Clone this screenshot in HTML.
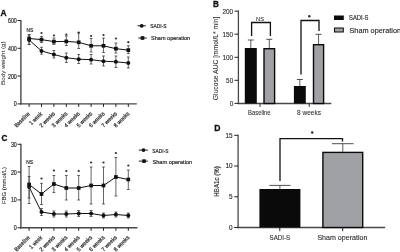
<!DOCTYPE html>
<html><head><meta charset="utf-8"><style>
html,body{margin:0;padding:0;background:#fff;width:400px;height:252px;overflow:hidden}
svg{display:block;will-change:transform}
text{font-family:"Liberation Sans", sans-serif}
</style></head><body>
<svg width="400" height="252" viewBox="0 0 400 252">
<rect width="400" height="252" fill="#fff"/>
<text x="0.4" y="15.9" font-size="8.4" text-anchor="start" font-weight="bold" fill="#111" stroke="#111" stroke-width="0.3">A</text>
<line x1="20.9" y1="19.9" x2="20.9" y2="104.60000000000001" stroke="#484848" stroke-width="1.4"/>
<line x1="20.2" y1="103.9" x2="136.8" y2="103.9" stroke="#484848" stroke-width="1.4"/>
<line x1="17.6" y1="20.5" x2="20.9" y2="20.5" stroke="#222" stroke-width="1.0"/>
<text x="16.8" y="22.9" font-size="6.6" text-anchor="end" font-weight="normal" fill="#2a2a2a" stroke="#2a2a2a" stroke-width="0.2" textLength="8.85" lengthAdjust="spacingAndGlyphs">600</text>
<line x1="17.6" y1="48.3" x2="20.9" y2="48.3" stroke="#222" stroke-width="1.0"/>
<text x="16.8" y="50.699999999999996" font-size="6.6" text-anchor="end" font-weight="normal" fill="#2a2a2a" stroke="#2a2a2a" stroke-width="0.2" textLength="8.85" lengthAdjust="spacingAndGlyphs">400</text>
<line x1="17.6" y1="76.1" x2="20.9" y2="76.1" stroke="#222" stroke-width="1.0"/>
<text x="16.8" y="78.5" font-size="6.6" text-anchor="end" font-weight="normal" fill="#2a2a2a" stroke="#2a2a2a" stroke-width="0.2" textLength="8.85" lengthAdjust="spacingAndGlyphs">200</text>
<line x1="17.6" y1="103.9" x2="20.9" y2="103.9" stroke="#222" stroke-width="1.0"/>
<text x="16.8" y="106.30000000000001" font-size="6.6" text-anchor="end" font-weight="normal" fill="#2a2a2a" stroke="#2a2a2a" stroke-width="0.2" textLength="2.95" lengthAdjust="spacingAndGlyphs">0</text>
<line x1="29.1" y1="103.9" x2="29.1" y2="106.9" stroke="#222" stroke-width="1.0"/>
<text transform="translate(30.3,114.2) rotate(-45)" font-size="5.8" text-anchor="end" font-weight="normal" fill="#2a2a2a" stroke="#2a2a2a" stroke-width="0.22" textLength="19.2" lengthAdjust="spacingAndGlyphs">Baseline</text>
<line x1="41.5" y1="103.9" x2="41.5" y2="106.9" stroke="#222" stroke-width="1.0"/>
<text transform="translate(42.7,114.2) rotate(-45)" font-size="5.8" text-anchor="end" font-weight="normal" fill="#2a2a2a" stroke="#2a2a2a" stroke-width="0.22" textLength="15.8" lengthAdjust="spacingAndGlyphs">1 week</text>
<line x1="53.900000000000006" y1="103.9" x2="53.900000000000006" y2="106.9" stroke="#222" stroke-width="1.0"/>
<text transform="translate(55.400000000000006,114.10000000000001) rotate(-45)" font-size="5.8" text-anchor="end" font-weight="normal" fill="#2a2a2a" stroke="#2a2a2a" stroke-width="0.22" textLength="19.4" lengthAdjust="spacingAndGlyphs">2 weeks</text>
<line x1="66.30000000000001" y1="103.9" x2="66.30000000000001" y2="106.9" stroke="#222" stroke-width="1.0"/>
<text transform="translate(67.80000000000001,114.10000000000001) rotate(-45)" font-size="5.8" text-anchor="end" font-weight="normal" fill="#2a2a2a" stroke="#2a2a2a" stroke-width="0.22" textLength="19.4" lengthAdjust="spacingAndGlyphs">3 weeks</text>
<line x1="78.7" y1="103.9" x2="78.7" y2="106.9" stroke="#222" stroke-width="1.0"/>
<text transform="translate(80.2,114.10000000000001) rotate(-45)" font-size="5.8" text-anchor="end" font-weight="normal" fill="#2a2a2a" stroke="#2a2a2a" stroke-width="0.22" textLength="19.4" lengthAdjust="spacingAndGlyphs">4 weeks</text>
<line x1="91.1" y1="103.9" x2="91.1" y2="106.9" stroke="#222" stroke-width="1.0"/>
<text transform="translate(92.6,114.10000000000001) rotate(-45)" font-size="5.8" text-anchor="end" font-weight="normal" fill="#2a2a2a" stroke="#2a2a2a" stroke-width="0.22" textLength="19.4" lengthAdjust="spacingAndGlyphs">5 weeks</text>
<line x1="103.5" y1="103.9" x2="103.5" y2="106.9" stroke="#222" stroke-width="1.0"/>
<text transform="translate(105.0,114.10000000000001) rotate(-45)" font-size="5.8" text-anchor="end" font-weight="normal" fill="#2a2a2a" stroke="#2a2a2a" stroke-width="0.22" textLength="19.4" lengthAdjust="spacingAndGlyphs">6 weeks</text>
<line x1="115.9" y1="103.9" x2="115.9" y2="106.9" stroke="#222" stroke-width="1.0"/>
<text transform="translate(117.4,114.10000000000001) rotate(-45)" font-size="5.8" text-anchor="end" font-weight="normal" fill="#2a2a2a" stroke="#2a2a2a" stroke-width="0.22" textLength="19.4" lengthAdjust="spacingAndGlyphs">7 weeks</text>
<line x1="128.3" y1="103.9" x2="128.3" y2="106.9" stroke="#222" stroke-width="1.0"/>
<text transform="translate(129.8,114.10000000000001) rotate(-45)" font-size="5.8" text-anchor="end" font-weight="normal" fill="#2a2a2a" stroke="#2a2a2a" stroke-width="0.22" textLength="19.4" lengthAdjust="spacingAndGlyphs">8 weeks</text>
<text transform="translate(5.3,63.2) rotate(-90)" font-size="6.0" text-anchor="middle" font-weight="normal" fill="#2a2a2a" stroke="#2a2a2a" stroke-width="0.05" textLength="43.5" lengthAdjust="spacingAndGlyphs">Body weight (g)</text>
<line x1="29.1" y1="35" x2="29.1" y2="44.5" stroke="#333" stroke-width="0.75"/>
<line x1="27.700000000000003" y1="35" x2="30.5" y2="35" stroke="#333" stroke-width="0.75"/>
<line x1="27.700000000000003" y1="44.5" x2="30.5" y2="44.5" stroke="#333" stroke-width="0.75"/>
<line x1="41.5" y1="47.3" x2="41.5" y2="54.2" stroke="#333" stroke-width="0.75"/>
<line x1="40.1" y1="47.3" x2="42.9" y2="47.3" stroke="#333" stroke-width="0.75"/>
<line x1="40.1" y1="54.2" x2="42.9" y2="54.2" stroke="#333" stroke-width="0.75"/>
<line x1="53.900000000000006" y1="50.5" x2="53.900000000000006" y2="58" stroke="#333" stroke-width="0.75"/>
<line x1="52.50000000000001" y1="50.5" x2="55.300000000000004" y2="50.5" stroke="#333" stroke-width="0.75"/>
<line x1="52.50000000000001" y1="58" x2="55.300000000000004" y2="58" stroke="#333" stroke-width="0.75"/>
<line x1="66.30000000000001" y1="53" x2="66.30000000000001" y2="62.5" stroke="#333" stroke-width="0.75"/>
<line x1="64.9" y1="53" x2="67.70000000000002" y2="53" stroke="#333" stroke-width="0.75"/>
<line x1="64.9" y1="62.5" x2="67.70000000000002" y2="62.5" stroke="#333" stroke-width="0.75"/>
<line x1="78.7" y1="54.5" x2="78.7" y2="63.5" stroke="#333" stroke-width="0.75"/>
<line x1="77.3" y1="54.5" x2="80.10000000000001" y2="54.5" stroke="#333" stroke-width="0.75"/>
<line x1="77.3" y1="63.5" x2="80.10000000000001" y2="63.5" stroke="#333" stroke-width="0.75"/>
<line x1="91.1" y1="54.5" x2="91.1" y2="64" stroke="#333" stroke-width="0.75"/>
<line x1="89.69999999999999" y1="54.5" x2="92.5" y2="54.5" stroke="#333" stroke-width="0.75"/>
<line x1="89.69999999999999" y1="64" x2="92.5" y2="64" stroke="#333" stroke-width="0.75"/>
<line x1="103.5" y1="56" x2="103.5" y2="66" stroke="#333" stroke-width="0.75"/>
<line x1="102.1" y1="56" x2="104.9" y2="56" stroke="#333" stroke-width="0.75"/>
<line x1="102.1" y1="66" x2="104.9" y2="66" stroke="#333" stroke-width="0.75"/>
<line x1="115.9" y1="56" x2="115.9" y2="67.5" stroke="#333" stroke-width="0.75"/>
<line x1="114.5" y1="56" x2="117.30000000000001" y2="56" stroke="#333" stroke-width="0.75"/>
<line x1="114.5" y1="67.5" x2="117.30000000000001" y2="67.5" stroke="#333" stroke-width="0.75"/>
<line x1="128.3" y1="57" x2="128.3" y2="68" stroke="#333" stroke-width="0.75"/>
<line x1="126.9" y1="57" x2="129.70000000000002" y2="57" stroke="#333" stroke-width="0.75"/>
<line x1="126.9" y1="68" x2="129.70000000000002" y2="68" stroke="#333" stroke-width="0.75"/>
<polyline points="29.1,40.0 41.5,50.9 53.9,54.5 66.3,57.7 78.7,59.2 91.1,59.7 103.5,61.2 115.9,61.8 128.3,63.0" fill="none" stroke="#111" stroke-width="1.0"/>
<circle cx="29.1" cy="40.0" r="2.0" fill="#111"/>
<circle cx="41.5" cy="50.9" r="2.0" fill="#111"/>
<circle cx="53.9" cy="54.5" r="2.0" fill="#111"/>
<circle cx="66.3" cy="57.7" r="2.0" fill="#111"/>
<circle cx="78.7" cy="59.2" r="2.0" fill="#111"/>
<circle cx="91.1" cy="59.7" r="2.0" fill="#111"/>
<circle cx="103.5" cy="61.2" r="2.0" fill="#111"/>
<circle cx="115.9" cy="61.8" r="2.0" fill="#111"/>
<circle cx="128.3" cy="63.0" r="2.0" fill="#111"/>
<line x1="29.1" y1="34.5" x2="29.1" y2="44.5" stroke="#333" stroke-width="0.75"/>
<line x1="27.700000000000003" y1="34.5" x2="30.5" y2="34.5" stroke="#333" stroke-width="0.75"/>
<line x1="27.700000000000003" y1="44.5" x2="30.5" y2="44.5" stroke="#333" stroke-width="0.75"/>
<line x1="41.5" y1="36.5" x2="41.5" y2="42.5" stroke="#333" stroke-width="0.75"/>
<line x1="40.1" y1="36.5" x2="42.9" y2="36.5" stroke="#333" stroke-width="0.75"/>
<line x1="40.1" y1="42.5" x2="42.9" y2="42.5" stroke="#333" stroke-width="0.75"/>
<line x1="53.900000000000006" y1="38" x2="53.900000000000006" y2="44.5" stroke="#333" stroke-width="0.75"/>
<line x1="52.50000000000001" y1="38" x2="55.300000000000004" y2="38" stroke="#333" stroke-width="0.75"/>
<line x1="52.50000000000001" y1="44.5" x2="55.300000000000004" y2="44.5" stroke="#333" stroke-width="0.75"/>
<line x1="66.30000000000001" y1="36" x2="66.30000000000001" y2="45.5" stroke="#333" stroke-width="0.75"/>
<line x1="64.9" y1="36" x2="67.70000000000002" y2="36" stroke="#333" stroke-width="0.75"/>
<line x1="64.9" y1="45.5" x2="67.70000000000002" y2="45.5" stroke="#333" stroke-width="0.75"/>
<line x1="78.7" y1="33" x2="78.7" y2="48.5" stroke="#333" stroke-width="0.75"/>
<line x1="77.3" y1="33" x2="80.10000000000001" y2="33" stroke="#333" stroke-width="0.75"/>
<line x1="77.3" y1="48.5" x2="80.10000000000001" y2="48.5" stroke="#333" stroke-width="0.75"/>
<line x1="91.1" y1="38.5" x2="91.1" y2="52" stroke="#333" stroke-width="0.75"/>
<line x1="89.69999999999999" y1="38.5" x2="92.5" y2="38.5" stroke="#333" stroke-width="0.75"/>
<line x1="89.69999999999999" y1="52" x2="92.5" y2="52" stroke="#333" stroke-width="0.75"/>
<line x1="103.5" y1="38" x2="103.5" y2="52.5" stroke="#333" stroke-width="0.75"/>
<line x1="102.1" y1="38" x2="104.9" y2="38" stroke="#333" stroke-width="0.75"/>
<line x1="102.1" y1="52.5" x2="104.9" y2="52.5" stroke="#333" stroke-width="0.75"/>
<line x1="115.9" y1="43" x2="115.9" y2="53" stroke="#333" stroke-width="0.75"/>
<line x1="114.5" y1="43" x2="117.30000000000001" y2="43" stroke="#333" stroke-width="0.75"/>
<line x1="114.5" y1="53" x2="117.30000000000001" y2="53" stroke="#333" stroke-width="0.75"/>
<line x1="128.3" y1="45.7" x2="128.3" y2="53.5" stroke="#333" stroke-width="0.75"/>
<line x1="126.9" y1="45.7" x2="129.70000000000002" y2="45.7" stroke="#333" stroke-width="0.75"/>
<line x1="126.9" y1="53.5" x2="129.70000000000002" y2="53.5" stroke="#333" stroke-width="0.75"/>
<polyline points="29.1,38.5 41.5,39.6 53.9,41.6 66.3,41.4 78.7,42.3 91.1,45.8 103.5,45.8 115.9,48.7 128.3,50.1" fill="none" stroke="#111" stroke-width="1.0"/>
<rect x="27.25" y="36.65" width="3.7" height="3.7" fill="#111"/>
<rect x="39.65" y="37.75" width="3.7" height="3.7" fill="#111"/>
<rect x="52.05" y="39.75" width="3.7" height="3.7" fill="#111"/>
<rect x="64.45" y="39.55" width="3.7" height="3.7" fill="#111"/>
<rect x="76.85" y="40.45" width="3.7" height="3.7" fill="#111"/>
<rect x="89.25" y="43.95" width="3.7" height="3.7" fill="#111"/>
<rect x="101.65" y="43.95" width="3.7" height="3.7" fill="#111"/>
<rect x="114.05" y="46.85" width="3.7" height="3.7" fill="#111"/>
<rect x="126.45" y="48.25" width="3.7" height="3.7" fill="#111"/>
<text x="29.8" y="32.4" font-size="5.8" text-anchor="middle" font-weight="normal" fill="#2a2a2a" stroke="#2a2a2a" stroke-width="0.2" textLength="6.8" lengthAdjust="spacingAndGlyphs">NS</text>
<circle cx="41.5" cy="33" r="1.1" fill="#2a2a2a"/>
<circle cx="53.900000000000006" cy="35.5" r="1.1" fill="#2a2a2a"/>
<circle cx="66.30000000000001" cy="34.5" r="1.1" fill="#2a2a2a"/>
<circle cx="78.7" cy="32.5" r="1.1" fill="#2a2a2a"/>
<circle cx="91.1" cy="36" r="1.1" fill="#2a2a2a"/>
<circle cx="103.5" cy="35" r="1.1" fill="#2a2a2a"/>
<circle cx="115.9" cy="38.5" r="1.1" fill="#2a2a2a"/>
<circle cx="128.3" cy="42.2" r="1.1" fill="#2a2a2a"/>
<line x1="137.5" y1="25.8" x2="145.9" y2="25.8" stroke="#222" stroke-width="1.0"/>
<circle cx="141.7" cy="25.8" r="1.9" fill="#111"/>
<text x="150.2" y="28.1" font-size="5.8" text-anchor="start" font-weight="normal" fill="#2a2a2a" stroke="#2a2a2a" stroke-width="0.2" textLength="16.4" lengthAdjust="spacingAndGlyphs">SADI-S</text>
<line x1="138.3" y1="38" x2="146.8" y2="38" stroke="#222" stroke-width="1.0"/>
<rect x="140.7" y="36.2" width="3.6" height="3.6" fill="#111"/>
<text x="151" y="40.3" font-size="5.8" text-anchor="start" font-weight="normal" fill="#2a2a2a" stroke="#2a2a2a" stroke-width="0.2" textLength="39.2" lengthAdjust="spacingAndGlyphs">Sham operation</text>
<text x="1.6" y="140.7" font-size="8.2" text-anchor="start" font-weight="bold" fill="#111" stroke="#111" stroke-width="0.3">C</text>
<line x1="20.9" y1="143.70000000000002" x2="20.9" y2="228.5" stroke="#484848" stroke-width="1.4"/>
<line x1="20.2" y1="227.8" x2="137.4" y2="227.8" stroke="#484848" stroke-width="1.4"/>
<line x1="17.6" y1="144.3" x2="20.9" y2="144.3" stroke="#222" stroke-width="1.0"/>
<text x="16.8" y="146.70000000000002" font-size="6.6" text-anchor="end" font-weight="normal" fill="#2a2a2a" stroke="#2a2a2a" stroke-width="0.2" textLength="5.9" lengthAdjust="spacingAndGlyphs">30</text>
<line x1="17.6" y1="172.1" x2="20.9" y2="172.1" stroke="#222" stroke-width="1.0"/>
<text x="16.8" y="174.5" font-size="6.6" text-anchor="end" font-weight="normal" fill="#2a2a2a" stroke="#2a2a2a" stroke-width="0.2" textLength="5.9" lengthAdjust="spacingAndGlyphs">20</text>
<line x1="17.6" y1="199.9" x2="20.9" y2="199.9" stroke="#222" stroke-width="1.0"/>
<text x="16.8" y="202.3" font-size="6.6" text-anchor="end" font-weight="normal" fill="#2a2a2a" stroke="#2a2a2a" stroke-width="0.2" textLength="5.9" lengthAdjust="spacingAndGlyphs">10</text>
<line x1="17.6" y1="227.8" x2="20.9" y2="227.8" stroke="#222" stroke-width="1.0"/>
<text x="16.8" y="230.20000000000002" font-size="6.6" text-anchor="end" font-weight="normal" fill="#2a2a2a" stroke="#2a2a2a" stroke-width="0.2" textLength="2.95" lengthAdjust="spacingAndGlyphs">0</text>
<line x1="29.1" y1="227.8" x2="29.1" y2="230.8" stroke="#222" stroke-width="1.0"/>
<text transform="translate(30.3,238.10000000000002) rotate(-45)" font-size="5.8" text-anchor="end" font-weight="normal" fill="#2a2a2a" stroke="#2a2a2a" stroke-width="0.22" textLength="19.2" lengthAdjust="spacingAndGlyphs">Baseline</text>
<line x1="41.5" y1="227.8" x2="41.5" y2="230.8" stroke="#222" stroke-width="1.0"/>
<text transform="translate(42.7,238.10000000000002) rotate(-45)" font-size="5.8" text-anchor="end" font-weight="normal" fill="#2a2a2a" stroke="#2a2a2a" stroke-width="0.22" textLength="15.8" lengthAdjust="spacingAndGlyphs">1 week</text>
<line x1="53.900000000000006" y1="227.8" x2="53.900000000000006" y2="230.8" stroke="#222" stroke-width="1.0"/>
<text transform="translate(55.400000000000006,238.0) rotate(-45)" font-size="5.8" text-anchor="end" font-weight="normal" fill="#2a2a2a" stroke="#2a2a2a" stroke-width="0.22" textLength="19.4" lengthAdjust="spacingAndGlyphs">2 weeks</text>
<line x1="66.30000000000001" y1="227.8" x2="66.30000000000001" y2="230.8" stroke="#222" stroke-width="1.0"/>
<text transform="translate(67.80000000000001,238.0) rotate(-45)" font-size="5.8" text-anchor="end" font-weight="normal" fill="#2a2a2a" stroke="#2a2a2a" stroke-width="0.22" textLength="19.4" lengthAdjust="spacingAndGlyphs">3 weeks</text>
<line x1="78.7" y1="227.8" x2="78.7" y2="230.8" stroke="#222" stroke-width="1.0"/>
<text transform="translate(80.2,238.0) rotate(-45)" font-size="5.8" text-anchor="end" font-weight="normal" fill="#2a2a2a" stroke="#2a2a2a" stroke-width="0.22" textLength="19.4" lengthAdjust="spacingAndGlyphs">4 weeks</text>
<line x1="91.1" y1="227.8" x2="91.1" y2="230.8" stroke="#222" stroke-width="1.0"/>
<text transform="translate(92.6,238.0) rotate(-45)" font-size="5.8" text-anchor="end" font-weight="normal" fill="#2a2a2a" stroke="#2a2a2a" stroke-width="0.22" textLength="19.4" lengthAdjust="spacingAndGlyphs">5 weeks</text>
<line x1="103.5" y1="227.8" x2="103.5" y2="230.8" stroke="#222" stroke-width="1.0"/>
<text transform="translate(105.0,238.0) rotate(-45)" font-size="5.8" text-anchor="end" font-weight="normal" fill="#2a2a2a" stroke="#2a2a2a" stroke-width="0.22" textLength="19.4" lengthAdjust="spacingAndGlyphs">6 weeks</text>
<line x1="115.9" y1="227.8" x2="115.9" y2="230.8" stroke="#222" stroke-width="1.0"/>
<text transform="translate(117.4,238.0) rotate(-45)" font-size="5.8" text-anchor="end" font-weight="normal" fill="#2a2a2a" stroke="#2a2a2a" stroke-width="0.22" textLength="19.4" lengthAdjust="spacingAndGlyphs">7 weeks</text>
<line x1="128.3" y1="227.8" x2="128.3" y2="230.8" stroke="#222" stroke-width="1.0"/>
<text transform="translate(129.8,238.0) rotate(-45)" font-size="5.8" text-anchor="end" font-weight="normal" fill="#2a2a2a" stroke="#2a2a2a" stroke-width="0.22" textLength="19.4" lengthAdjust="spacingAndGlyphs">8 weeks</text>
<text transform="translate(6.2,185.5) rotate(-90)" font-size="5.8" text-anchor="middle" font-weight="normal" fill="#2a2a2a" stroke="#2a2a2a" stroke-width="0.08" textLength="37" lengthAdjust="spacingAndGlyphs">FBG (mmol/L)</text>
<line x1="29.1" y1="176.5" x2="29.1" y2="198" stroke="#333" stroke-width="0.75"/>
<line x1="27.700000000000003" y1="176.5" x2="30.5" y2="176.5" stroke="#333" stroke-width="0.75"/>
<line x1="27.700000000000003" y1="198" x2="30.5" y2="198" stroke="#333" stroke-width="0.75"/>
<line x1="41.5" y1="208.5" x2="41.5" y2="215.5" stroke="#333" stroke-width="0.75"/>
<line x1="40.1" y1="208.5" x2="42.9" y2="208.5" stroke="#333" stroke-width="0.75"/>
<line x1="40.1" y1="215.5" x2="42.9" y2="215.5" stroke="#333" stroke-width="0.75"/>
<line x1="53.900000000000006" y1="211" x2="53.900000000000006" y2="217" stroke="#333" stroke-width="0.75"/>
<line x1="52.50000000000001" y1="211" x2="55.300000000000004" y2="211" stroke="#333" stroke-width="0.75"/>
<line x1="52.50000000000001" y1="217" x2="55.300000000000004" y2="217" stroke="#333" stroke-width="0.75"/>
<line x1="66.30000000000001" y1="211" x2="66.30000000000001" y2="217" stroke="#333" stroke-width="0.75"/>
<line x1="64.9" y1="211" x2="67.70000000000002" y2="211" stroke="#333" stroke-width="0.75"/>
<line x1="64.9" y1="217" x2="67.70000000000002" y2="217" stroke="#333" stroke-width="0.75"/>
<line x1="78.7" y1="210.5" x2="78.7" y2="216.5" stroke="#333" stroke-width="0.75"/>
<line x1="77.3" y1="210.5" x2="80.10000000000001" y2="210.5" stroke="#333" stroke-width="0.75"/>
<line x1="77.3" y1="216.5" x2="80.10000000000001" y2="216.5" stroke="#333" stroke-width="0.75"/>
<line x1="91.1" y1="210.5" x2="91.1" y2="216.5" stroke="#333" stroke-width="0.75"/>
<line x1="89.69999999999999" y1="210.5" x2="92.5" y2="210.5" stroke="#333" stroke-width="0.75"/>
<line x1="89.69999999999999" y1="216.5" x2="92.5" y2="216.5" stroke="#333" stroke-width="0.75"/>
<line x1="103.5" y1="213" x2="103.5" y2="218" stroke="#333" stroke-width="0.75"/>
<line x1="102.1" y1="213" x2="104.9" y2="213" stroke="#333" stroke-width="0.75"/>
<line x1="102.1" y1="218" x2="104.9" y2="218" stroke="#333" stroke-width="0.75"/>
<line x1="115.9" y1="212" x2="115.9" y2="217" stroke="#333" stroke-width="0.75"/>
<line x1="114.5" y1="212" x2="117.30000000000001" y2="212" stroke="#333" stroke-width="0.75"/>
<line x1="114.5" y1="217" x2="117.30000000000001" y2="217" stroke="#333" stroke-width="0.75"/>
<line x1="128.3" y1="213" x2="128.3" y2="218" stroke="#333" stroke-width="0.75"/>
<line x1="126.9" y1="213" x2="129.70000000000002" y2="213" stroke="#333" stroke-width="0.75"/>
<line x1="126.9" y1="218" x2="129.70000000000002" y2="218" stroke="#333" stroke-width="0.75"/>
<polyline points="29.1,187.0 41.5,212.0 53.9,214.0 66.3,214.0 78.7,213.5 91.1,213.5 103.5,215.5 115.9,214.5 128.3,215.5" fill="none" stroke="#111" stroke-width="1.0"/>
<circle cx="29.1" cy="187.0" r="2.0" fill="#111"/>
<circle cx="41.5" cy="212.0" r="2.0" fill="#111"/>
<circle cx="53.9" cy="214.0" r="2.0" fill="#111"/>
<circle cx="66.3" cy="214.0" r="2.0" fill="#111"/>
<circle cx="78.7" cy="213.5" r="2.0" fill="#111"/>
<circle cx="91.1" cy="213.5" r="2.0" fill="#111"/>
<circle cx="103.5" cy="215.5" r="2.0" fill="#111"/>
<circle cx="115.9" cy="214.5" r="2.0" fill="#111"/>
<circle cx="128.3" cy="215.5" r="2.0" fill="#111"/>
<line x1="29.1" y1="166.5" x2="29.1" y2="203.5" stroke="#333" stroke-width="0.75"/>
<line x1="27.700000000000003" y1="166.5" x2="30.5" y2="166.5" stroke="#333" stroke-width="0.75"/>
<line x1="27.700000000000003" y1="203.5" x2="30.5" y2="203.5" stroke="#333" stroke-width="0.75"/>
<line x1="41.5" y1="183.3" x2="41.5" y2="204.5" stroke="#333" stroke-width="0.75"/>
<line x1="40.1" y1="183.3" x2="42.9" y2="183.3" stroke="#333" stroke-width="0.75"/>
<line x1="40.1" y1="204.5" x2="42.9" y2="204.5" stroke="#333" stroke-width="0.75"/>
<line x1="53.900000000000006" y1="175.5" x2="53.900000000000006" y2="192.5" stroke="#333" stroke-width="0.75"/>
<line x1="52.50000000000001" y1="175.5" x2="55.300000000000004" y2="175.5" stroke="#333" stroke-width="0.75"/>
<line x1="52.50000000000001" y1="192.5" x2="55.300000000000004" y2="192.5" stroke="#333" stroke-width="0.75"/>
<line x1="66.30000000000001" y1="175.5" x2="66.30000000000001" y2="200" stroke="#333" stroke-width="0.75"/>
<line x1="64.9" y1="175.5" x2="67.70000000000002" y2="175.5" stroke="#333" stroke-width="0.75"/>
<line x1="64.9" y1="200" x2="67.70000000000002" y2="200" stroke="#333" stroke-width="0.75"/>
<line x1="78.7" y1="175.5" x2="78.7" y2="200" stroke="#333" stroke-width="0.75"/>
<line x1="77.3" y1="175.5" x2="80.10000000000001" y2="175.5" stroke="#333" stroke-width="0.75"/>
<line x1="77.3" y1="200" x2="80.10000000000001" y2="200" stroke="#333" stroke-width="0.75"/>
<line x1="91.1" y1="167" x2="91.1" y2="204" stroke="#333" stroke-width="0.75"/>
<line x1="89.69999999999999" y1="167" x2="92.5" y2="167" stroke="#333" stroke-width="0.75"/>
<line x1="89.69999999999999" y1="204" x2="92.5" y2="204" stroke="#333" stroke-width="0.75"/>
<line x1="103.5" y1="167" x2="103.5" y2="204" stroke="#333" stroke-width="0.75"/>
<line x1="102.1" y1="167" x2="104.9" y2="167" stroke="#333" stroke-width="0.75"/>
<line x1="102.1" y1="204" x2="104.9" y2="204" stroke="#333" stroke-width="0.75"/>
<line x1="115.9" y1="157.5" x2="115.9" y2="196" stroke="#333" stroke-width="0.75"/>
<line x1="114.5" y1="157.5" x2="117.30000000000001" y2="157.5" stroke="#333" stroke-width="0.75"/>
<line x1="114.5" y1="196" x2="117.30000000000001" y2="196" stroke="#333" stroke-width="0.75"/>
<line x1="128.3" y1="170" x2="128.3" y2="189.5" stroke="#333" stroke-width="0.75"/>
<line x1="126.9" y1="170" x2="129.70000000000002" y2="170" stroke="#333" stroke-width="0.75"/>
<line x1="126.9" y1="189.5" x2="129.70000000000002" y2="189.5" stroke="#333" stroke-width="0.75"/>
<polyline points="29.1,184.5 41.5,194.0 53.9,184.0 66.3,188.0 78.7,188.0 91.1,185.5 103.5,185.5 115.9,177.0 128.3,179.5" fill="none" stroke="#111" stroke-width="1.0"/>
<rect x="27.25" y="182.65" width="3.7" height="3.7" fill="#111"/>
<rect x="39.65" y="192.15" width="3.7" height="3.7" fill="#111"/>
<rect x="52.05" y="182.15" width="3.7" height="3.7" fill="#111"/>
<rect x="64.45" y="186.15" width="3.7" height="3.7" fill="#111"/>
<rect x="76.85" y="186.15" width="3.7" height="3.7" fill="#111"/>
<rect x="89.25" y="183.65" width="3.7" height="3.7" fill="#111"/>
<rect x="101.65" y="183.65" width="3.7" height="3.7" fill="#111"/>
<rect x="114.05" y="175.15" width="3.7" height="3.7" fill="#111"/>
<rect x="126.45" y="177.65" width="3.7" height="3.7" fill="#111"/>
<text x="29.6" y="164.3" font-size="5.8" text-anchor="middle" font-weight="normal" fill="#2a2a2a" stroke="#2a2a2a" stroke-width="0.2" textLength="6.8" lengthAdjust="spacingAndGlyphs">NS</text>
<circle cx="41.5" cy="178.5" r="1.1" fill="#2a2a2a"/>
<circle cx="53.900000000000006" cy="170.5" r="1.1" fill="#2a2a2a"/>
<circle cx="66.30000000000001" cy="171" r="1.1" fill="#2a2a2a"/>
<circle cx="78.7" cy="171" r="1.1" fill="#2a2a2a"/>
<circle cx="91.1" cy="162.5" r="1.1" fill="#2a2a2a"/>
<circle cx="103.5" cy="162.5" r="1.1" fill="#2a2a2a"/>
<circle cx="115.9" cy="153" r="1.1" fill="#2a2a2a"/>
<circle cx="128.3" cy="165.5" r="1.1" fill="#2a2a2a"/>
<line x1="138.8" y1="150.1" x2="147.9" y2="150.1" stroke="#222" stroke-width="1.0"/>
<circle cx="143.5" cy="150.1" r="1.9" fill="#111"/>
<text x="152.3" y="152.5" font-size="5.8" text-anchor="start" font-weight="normal" fill="#2a2a2a" stroke="#2a2a2a" stroke-width="0.2" textLength="16.3" lengthAdjust="spacingAndGlyphs">SADI-S</text>
<line x1="138.8" y1="161.1" x2="147.9" y2="161.1" stroke="#222" stroke-width="1.0"/>
<rect x="142.2" y="159.3" width="3.6" height="3.6" fill="#111"/>
<text x="152.4" y="163.7" font-size="5.8" text-anchor="start" font-weight="normal" fill="#2a2a2a" stroke="#2a2a2a" stroke-width="0.2" textLength="39.8" lengthAdjust="spacingAndGlyphs">Sham operation</text>
<text x="213.0" y="6.8" font-size="8.2" text-anchor="start" font-weight="bold" fill="#111" stroke="#111" stroke-width="0.3">B</text>
<line x1="238.4" y1="10.5" x2="238.4" y2="104.1" stroke="#484848" stroke-width="1.3"/>
<line x1="237.8" y1="103.5" x2="331.3" y2="103.5" stroke="#484848" stroke-width="1.3"/>
<line x1="234.5" y1="11.1" x2="238.4" y2="11.1" stroke="#222" stroke-width="1.0"/>
<text x="233.2" y="13.6" font-size="6.4" text-anchor="end" font-weight="normal" fill="#2a2a2a" stroke="#2a2a2a" stroke-width="0.1">200</text>
<line x1="234.5" y1="34.2" x2="238.4" y2="34.2" stroke="#222" stroke-width="1.0"/>
<text x="233.2" y="36.7" font-size="6.4" text-anchor="end" font-weight="normal" fill="#2a2a2a" stroke="#2a2a2a" stroke-width="0.1">150</text>
<line x1="234.5" y1="57.3" x2="238.4" y2="57.3" stroke="#222" stroke-width="1.0"/>
<text x="233.2" y="59.8" font-size="6.4" text-anchor="end" font-weight="normal" fill="#2a2a2a" stroke="#2a2a2a" stroke-width="0.1">100</text>
<line x1="234.5" y1="80.3" x2="238.4" y2="80.3" stroke="#222" stroke-width="1.0"/>
<text x="233.2" y="82.8" font-size="6.4" text-anchor="end" font-weight="normal" fill="#2a2a2a" stroke="#2a2a2a" stroke-width="0.1">50</text>
<line x1="234.5" y1="103.4" x2="238.4" y2="103.4" stroke="#222" stroke-width="1.0"/>
<text x="233.2" y="105.9" font-size="6.4" text-anchor="end" font-weight="normal" fill="#2a2a2a" stroke="#2a2a2a" stroke-width="0.1">0</text>
<line x1="260" y1="103.5" x2="260" y2="106.8" stroke="#222" stroke-width="1.0"/>
<line x1="309.2" y1="103.5" x2="309.2" y2="106.8" stroke="#222" stroke-width="1.0"/>
<text transform="translate(217.8,58.4) rotate(-90)" font-size="6.4" text-anchor="middle" font-weight="normal" fill="#2a2a2a" stroke="#2a2a2a" stroke-width="0.05" textLength="83.5" lengthAdjust="spacingAndGlyphs">Glucose AUC [mmol/L* min]</text>
<text x="259.3" y="114.6" font-size="6.6" text-anchor="middle" font-weight="normal" fill="#2a2a2a" stroke="#2a2a2a" stroke-width="0.05" textLength="22.5" lengthAdjust="spacingAndGlyphs">Baseline</text>
<text x="309" y="114.6" font-size="6.6" text-anchor="middle" font-weight="normal" fill="#2a2a2a" stroke="#2a2a2a" stroke-width="0.05" textLength="23.9" lengthAdjust="spacingAndGlyphs">8 weeks</text>
<line x1="250.8" y1="40" x2="250.8" y2="48" stroke="#333" stroke-width="0.8"/>
<line x1="247.8" y1="40" x2="253.8" y2="40" stroke="#333" stroke-width="0.85"/>
<rect x="244.8" y="48" width="12.0" height="55.5" fill="#0a0a0a"/>
<line x1="269.3" y1="39.3" x2="269.3" y2="48" stroke="#333" stroke-width="0.8"/>
<line x1="266.3" y1="39.3" x2="272.3" y2="39.3" stroke="#333" stroke-width="0.85"/>
<rect x="264.0" y="48.7" width="10.6" height="54.8" fill="#a0a1a5" stroke="#0a0a0a" stroke-width="1.4"/>
<line x1="299.85" y1="79.5" x2="299.85" y2="86" stroke="#333" stroke-width="0.8"/>
<line x1="296.85" y1="79.5" x2="302.85" y2="79.5" stroke="#333" stroke-width="0.85"/>
<rect x="293.9" y="86" width="11.900000000000034" height="17.5" fill="#0a0a0a"/>
<line x1="318.55" y1="34.3" x2="318.55" y2="44" stroke="#333" stroke-width="0.8"/>
<line x1="315.55" y1="34.3" x2="321.55" y2="34.3" stroke="#333" stroke-width="0.85"/>
<rect x="313.5" y="44.7" width="10.1" height="58.8" fill="#a0a1a5" stroke="#0a0a0a" stroke-width="1.4"/>
<polyline points="251.6,36 251.6,22.5 270.4,22.5 270.4,36" fill="none" stroke="#111" stroke-width="1.3"/>
<text x="260.1" y="20.6" font-size="5.6" text-anchor="middle" font-weight="normal" fill="#2a2a2a" stroke="#2a2a2a" stroke-width="0.05" textLength="8" lengthAdjust="spacingAndGlyphs">NS</text>
<polyline points="301,74.5 301,20.5 319,20.5 319,31" fill="none" stroke="#111" stroke-width="1.3"/>
<circle cx="309.3" cy="16.3" r="1.2" fill="#2a2a2a"/>
<rect x="334" y="15.5" width="9.8" height="4.5" fill="#0a0a0a"/>
<text x="349" y="20.1" font-size="6.4" text-anchor="start" font-weight="normal" fill="#2a2a2a" stroke="#2a2a2a" stroke-width="0.15" textLength="19.5" lengthAdjust="spacingAndGlyphs">SADI-S</text>
<rect x="334.5" y="28" width="8.8" height="4" fill="#a0a1a5" stroke="#0a0a0a" stroke-width="1.0"/>
<text x="349.5" y="32.8" font-size="7.0" text-anchor="start" font-weight="normal" fill="#2a2a2a" stroke="#2a2a2a" stroke-width="0.15" textLength="51.5" lengthAdjust="spacingAndGlyphs">Sham operation</text>
<text x="214.3" y="131.0" font-size="8.6" text-anchor="start" font-weight="bold" fill="#111" stroke="#111" stroke-width="0.3">D</text>
<line x1="238.1" y1="134.7" x2="238.1" y2="228.2" stroke="#484848" stroke-width="1.3"/>
<line x1="237.5" y1="227.5" x2="385.2" y2="227.5" stroke="#484848" stroke-width="1.3"/>
<line x1="234.2" y1="135.3" x2="238.1" y2="135.3" stroke="#222" stroke-width="1.0"/>
<text x="232.6" y="137.60000000000002" font-size="6.4" text-anchor="end" font-weight="normal" fill="#2a2a2a" stroke="#2a2a2a" stroke-width="0.15">15</text>
<line x1="234.2" y1="166.0" x2="238.1" y2="166.0" stroke="#222" stroke-width="1.0"/>
<text x="232.6" y="168.3" font-size="6.4" text-anchor="end" font-weight="normal" fill="#2a2a2a" stroke="#2a2a2a" stroke-width="0.15">10</text>
<line x1="234.2" y1="196.8" x2="238.1" y2="196.8" stroke="#222" stroke-width="1.0"/>
<text x="232.6" y="199.10000000000002" font-size="6.4" text-anchor="end" font-weight="normal" fill="#2a2a2a" stroke="#2a2a2a" stroke-width="0.15">5</text>
<line x1="234.2" y1="227.5" x2="238.1" y2="227.5" stroke="#222" stroke-width="1.0"/>
<text x="232.6" y="229.8" font-size="6.4" text-anchor="end" font-weight="normal" fill="#2a2a2a" stroke="#2a2a2a" stroke-width="0.15">0</text>
<line x1="279.8" y1="227.5" x2="279.8" y2="231.2" stroke="#222" stroke-width="1.0"/>
<line x1="342.7" y1="227.5" x2="342.7" y2="231.2" stroke="#222" stroke-width="1.0"/>
<text transform="translate(218.7,181.4) rotate(-90)" font-size="6.8" text-anchor="middle" font-weight="normal" fill="#2a2a2a" stroke="#2a2a2a" stroke-width="0.15" textLength="30.5" lengthAdjust="spacingAndGlyphs">HBA1c (%)</text>
<text x="279.9" y="239.6" font-size="7.0" text-anchor="middle" font-weight="normal" fill="#2a2a2a" stroke="#2a2a2a" stroke-width="0.1" textLength="20.7" lengthAdjust="spacingAndGlyphs">SADI-S</text>
<text x="342.4" y="239.6" font-size="7.0" text-anchor="middle" font-weight="normal" fill="#2a2a2a" stroke="#2a2a2a" stroke-width="0.1" textLength="50" lengthAdjust="spacingAndGlyphs">Sham operation</text>
<line x1="279.9" y1="185.4" x2="279.9" y2="189" stroke="#333" stroke-width="0.8"/>
<line x1="269.29999999999995" y1="185.4" x2="290.5" y2="185.4" stroke="#333" stroke-width="0.85"/>
<rect x="259.4" y="189" width="41.0" height="38.5" fill="#0a0a0a"/>
<line x1="342.79999999999995" y1="143.7" x2="342.79999999999995" y2="151.7" stroke="#333" stroke-width="0.8"/>
<line x1="331.99999999999994" y1="143.7" x2="353.59999999999997" y2="143.7" stroke="#333" stroke-width="0.85"/>
<rect x="322.9" y="152.39999999999998" width="39.79999999999999" height="75.10000000000001" fill="#a0a1a5" stroke="#0a0a0a" stroke-width="1.4"/>
<polyline points="280,181 280,138.6 342.5,138.6 342.5,141.5" fill="none" stroke="#111" stroke-width="1.3"/>
<circle cx="312.2" cy="132.5" r="1.2" fill="#2a2a2a"/>
</svg>
</body></html>
